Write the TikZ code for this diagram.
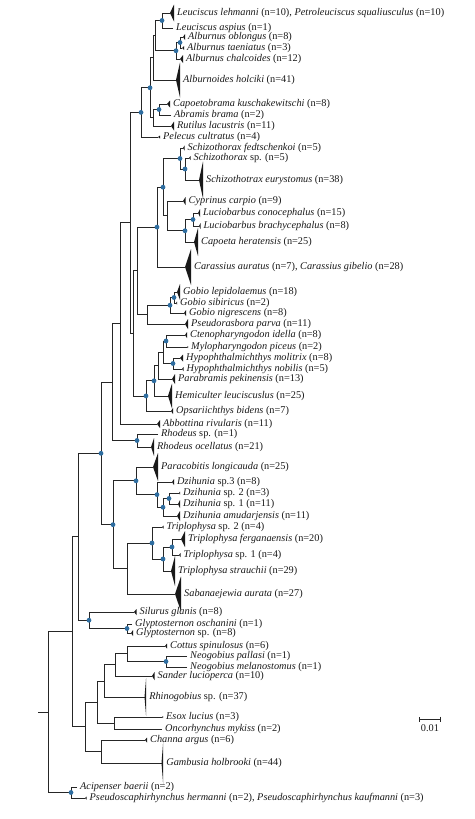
\documentclass[tikz,border=0pt]{standalone}
\usepackage{fontspec}
\setmainfont{Liberation Serif}
\usepackage{tikz}
\usetikzlibrary{calc}
\usetikzlibrary{arrows.meta}
\definecolor{dotblue}{RGB}{46,109,160}
\tikzset{branch/.style={draw=black!85, line width=.8pt}}
\tikzset{clade/.style={fill=black!90}}
\tikzset{taxon/.style={anchor=west, inner sep=0pt, font=\fontsize{10.3}{11}\selectfont, text=black!90}}
\tikzset{support/.style={fill=dotblue}}

\begin{document}
\begin{tikzpicture}[x=1pt,y=-1pt]
  \useasboundingbox (0,0) rectangle (474,819);
  \foreach \lab/\x/\y/\w/\h/\txt in {
    leh/170/13/4/17/{\textit{Leuciscus lehmanni} (n=10), \textit{Petroleuciscus squaliusculus} (n=10)},
    asp/173/28/0/0/{\textit{Leuciscus aspius} (n=1)},
    aob/183/37/2/6/{\textit{Alburnus oblongus} (n=8)},
    ata/182/48/2/4/{\textit{Alburnus taeniatus} (n=3)},
    ach/180/59/3/8/{\textit{Alburnus chalcoides} (n=12)},
    aho/176/80/4/35/{\textit{Alburnoides holciki} (n=41)},
    cku/167/104/3/7/{\textit{Capoetobrama kuschakewitschi} (n=8)},
    abr/171/115/0/0/{\textit{Abramis brama} (n=2)},
    rla/171/126/3/9/{\textit{Rutilus lacustris} (n=11)},
    pcu/158/137/2/3/{\textit{Pelecus cultratus} (n=4)},
    sfe/183/148/1.5/5/{\textit{Schizothorax fedtschenkoi} (n=5)},
    ssp/189/158/1.5/4/{\textit{Schizothorax} sp. (n=5)},
    seu/199/180/4/37/{\textit{Schizothotrax eurystomus} (n=38)},
    cca/183/201/2.5/8/{\textit{Cyprinus carpio} (n=9)},
    lco/198/213/2/8/{\textit{Luciobarbus conocephalus} (n=15)},
    lbr/199/226/1.5/6/{\textit{Luciobarbus brachycephalus} (n=8)},
    che/194/242/4/28/{\textit{Capoeta heratensis} (n=25)},
    cau/185/267/6/36/{\textit{Carassius auratus} (n=7), \textit{Carassius gibelio} (n=28)},
    gle/177/292/3/16/{\textit{Gobio lepidolaemus} (n=18)},
    gsi/176/303/1/3/{\textit{Gobio sibiricus} (n=2)},
    gni/184/313/2/6/{\textit{Gobio nigrescens} (n=8)},
    ppa/185/324/3/10/{\textit{Pseudorasbora parva} (n=11)},
    cid/185/335/2/6/{\textit{Ctenopharyngodon idella} (n=8)},
    mpi/187/347/1/2/{\textit{Mylopharyngodon piceus} (n=2)},
    hmo/180/358/3/7/{\textit{Hypophthalmichthys molitrix} (n=8)},
    hno/182/369/1.5/4/{\textit{Hypophthalmichthys nobilis} (n=5)},
    ppe/172/379/3/10/{\textit{Parabramis pekinensis} (n=13)},
    hle/168/396/4/25/{\textit{Hemiculter leuciscuslus} (n=25)},
    obi/171/411/2/6/{\textit{Opsariichthys bidens} (n=7)},
    ari/157/424/3/8/{\textit{Abbottina rivularis} (n=11)},
    rsp/158/434/0/0/{\textit{Rhodeus} sp. (n=1)},
    roc/151/447/3/18/{\textit{Rhodeus ocellatus} (n=21)},
    plo/153/467/5/28/{\textit{Paracobitis longicauda} (n=25)},
    dz3/172/482/2/6/{\textit{Dzihunia} sp.3 (n=8)},
    dz2/179/493/1/3/{\textit{Dzihunia} sp. 2 (n=3)},
    dz1/178/504/2/8/{\textit{Dzihunia} sp. 1 (n=11)},
    dam/177/516/3/10/{\textit{Dzihunia amudarjensis} (n=11)},
    ts2/162/527/1.5/3/{\textit{Triplophysa} sp. 2 (n=4)},
    tfe/181/539/4/16/{\textit{Triplophysa ferganaensis} (n=20)},
    ts1/179/555/1.5/4/{\textit{Triplophysa} sp. 1 (n=4)},
    tst/171/571/4/30/{\textit{Triplophysa strauchii} (n=29)},
    sau/175/594/6/35/{\textit{Sabanaejewia aurata} (n=27)},
    sgl/134/612/2.5/6/{\textit{Silurus glanis} (n=8)},
    gos/132/624/0/0/{\textit{Glyptosternon oschanini} (n=1)},
    gsp/131/633/2/6/{\textit{Glyptosternon} sp. (n=8)},
    csp/165/646/2/5/{\textit{Cottus spinulosus} (n=6)},
    npa/187/656/0/0/{\textit{Neogobius pallasi} (n=1)},
    nme/187/667/0/0/{\textit{Neogobius melanostomus} (n=1)},
    slu/152/676/2.5/8/{\textit{Sander lucioperca} (n=10)},
    rhi/144.5/697/1.6/38/{\textit{Rhinogobius} sp. (n=37)},
    elu/162/717/1/2/{\textit{Esox lucius} (n=3)},
    omy/162/729/0/0/{\textit{Oncorhynchus mykiss} (n=2)},
    cha/145/740/2/5/{\textit{Channa argus} (n=6)},
    gho/161.5/763/1.7/43/{\textit{Gambusia holbrooki} (n=44)},
    aba/77/787/0/0/{\textit{Acipenser baerii} (n=2)},
    psh/85/798/1.5/3/{\textit{Pseudoscaphirhynchus hermanni} (n=2), \textit{Pseudoscaphirhynchus kaufmanni} (n=3)}%
  } {
    \coordinate (\lab) at (\x,\y);
    \fill[clade] (\lab) -- ++(\w,-\h/2) -- ++(0,\h) -- cycle;
    \node[taxon] (\lab-name) at (\x+\w+3,\y) {\txt};
  }
  \foreach \nd/\nx/\ca/\cb in {
    nLeu/162/leh/asp,
    nAOT/180/aob/ata,
    nAlb/176/nAOT/ach,
    nLA1/155/nLeu/nAlb,
    nLA2/153/nLA1/aho,
    nCA/159/cku/abr,
    nCAR/153/nCA/rla,
    nA/150/nLA2/nCAR,
    nB/141/nA/pcu,
    nS2/185/ssp/seu,
    nS1/180/sfe/nS2,
    nLuc/193/lco/lbr,
    nLC/185/nLuc/che,
    nCyp/167/cca/nLC,
    nC1/163/nS1/nCyp,
    nCypr/157/nC1/cau,
    nG2/174/gle/gsi,
    nG1/170/nG2/gni,
    nGob/147/nG1/ppa,
    nQ1/137/nCypr/nGob,
    nCM/166/cid/mpi,
    nHyp/173/hmo/hno,
    nX4/163/nCM/nHyp,
    nX3/158/nX4/ppe,
    nX2/154/nX3/hle,
    nX1/146/nX2/obi,
    nQ2/133/nQ1/nX1,
    nP/130/nB/nQ2,
    nR/120/nP/ari,
    nRho/137/rsp/roc,
    nS/112/nR/nRho,
    nDz12/169/dz2/dz1,
    nDz/163/nDz12/dam,
    nDz3/157/dz3/nDz,
    nPD/136/plo/nDz3,
    nTr1/172/tfe/ts1,
    nTr2/163/nTr1/tst,
    nTr3/152/ts2/nTr2,
    nTS/127/nTr3/sau,
    nLoa/113/nPD/nTS,
    nT/101/nS/nLoa,
    nGly/127/gos/gsp,
    nSil/89/sgl/nGly,
    nU/78/nT/nSil,
    nNeo/166/npa/nme,
    nCN/127/csp/nNeo,
    nW3/115/nCN/slu,
    nW2/104/nW3/rhi,
    nEO/114/elu/omy,
    nW1/97/nW2/nEO,
    nCG/101/cha/gho,
    nW/85/nW1/nCG,
    nV/72/nU/nW,
    nAci/71/aba/psh,
    nRoot/48/nV/nAci%
  } {
    \path let \p1 = ($(\ca)!.5!(\cb)$) in coordinate (\nd) at (\nx pt,\y1);
    \draw[branch] (\nd) |- (\ca);
    \draw[branch] (\nd) |- (\cb);
  }
  \path let \p1 = (nRoot) in coordinate (stem) at (38pt,\y1);
  \draw[branch] (stem) -- (nRoot);
  \foreach \nd in {nLeu, nAOT, nAlb, nA, nCA, nB, nS1, nS2, nC1, nLuc, nLC, nCypr,
    nG2, nG1, nCM, nHyp, nX2, nX1, nRho, nT, nPD, nDz3, nDz, nDz12, nTr3, nTr1,
    nTr2, nLoa, nSil, nGly, nNeo, nAci} {
    \fill[support] (\nd) circle (2.4);
  }
  \coordinate (bar0) at (419,719);
  \coordinate (bar1) at (441,719);
  \draw[branch, {Bar[width=5pt]}-{Bar[width=5pt]}] (bar0) -- (bar1);
  \node[taxon, anchor=center] (barlab) at (430,728) {0.01};
\end{tikzpicture}
\end{document}
